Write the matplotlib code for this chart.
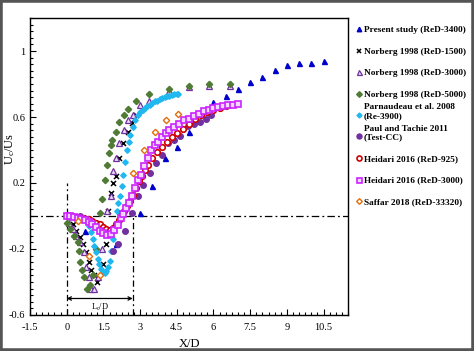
import numpy as np
import matplotlib
matplotlib.use("Agg")
import matplotlib.pyplot as plt
from matplotlib.lines import Line2D
from matplotlib.patches import Rectangle
from matplotlib.ticker import FixedLocator, MultipleLocator

plt.rcParams['font.family'] = ['Liberation Serif', 'DejaVu Serif']
plt.rcParams['mathtext.fontset'] = 'custom'
plt.rcParams['mathtext.rm'] = 'Liberation Serif'
plt.rcParams['mathtext.it'] = 'Liberation Serif'

# Present study (ReD-3400)
present_x = [0.75, 2.0, 3.0, 3.5, 4.0, 4.5, 5.0, 6.0, 6.5, 7.0, 7.5, 8.0, 8.5, 9.0, 9.5, 10.0, 10.5]
present_y = [-0.09, -0.17, 0.02, 0.18, 0.35, 0.42, 0.51, 0.69, 0.73, 0.77, 0.81, 0.84, 0.885, 0.915, 0.93, 0.93, 0.94]

# Norberg 1998 (ReD-1500)
n1500_x = [0.25, 0.4, 0.55, 0.65, 0.8, 0.9, 1.0, 1.1, 1.25, 1.5, 1.6, 1.7, 1.8, 1.9, 2.0, 2.15, 2.3, 2.5, 2.65, 2.75, 2.85]
n1500_y = [-0.05, -0.09, -0.13, -0.17, -0.22, -0.28, -0.33, -0.36, -0.40, -0.29, -0.17, 0.03, 0.14, 0.2, 0.24, 0.35, 0.44, 0.51, 0.565, 0.59, 0.61]

# Norberg 1998 (ReD-3000)
n3000_x = [0.1, 0.25, 0.4, 0.55, 0.7, 0.8, 0.9, 1.0, 1.1, 1.3, 1.45, 1.65, 1.8, 1.88, 2.0, 2.15, 2.33, 2.5, 2.7, 2.98, 3.35, 4.17, 5.0, 5.83, 6.67]
n3000_y = [-0.045, -0.08, -0.12, -0.16, -0.22, -0.31, -0.37, -0.44, -0.44, -0.37, -0.2, 0.03, 0.12, 0.27, 0.35, 0.44, 0.52, 0.58, 0.61, 0.67, 0.70, 0.76, 0.78, 0.79, 0.79]

# Norberg 1998 (ReD-5000)
n5000_x = [0.0, 0.15, 0.3, 0.45, 0.5, 0.56, 0.63, 0.72, 0.82, 0.95, 1.07, 1.2, 1.35, 1.44, 1.58, 1.65, 1.74, 1.8, 1.87, 2.0, 2.15, 2.33, 2.5, 2.84, 3.36, 4.17, 5.0, 5.83, 6.67]
n5000_y = [-0.04, -0.08, -0.12, -0.16, -0.21, -0.28, -0.33, -0.37, -0.44, -0.42, -0.36, -0.2, 0.02, 0.10, 0.22, 0.31, 0.38, 0.43, 0.46, 0.51, 0.57, 0.61, 0.65, 0.70, 0.74, 0.77, 0.79, 0.80, 0.80]

# Parnaudeau et al. 2008 (Re-3900)
parn_x = [0.85, 0.92, 0.99, 1.06, 1.13, 1.2, 1.27, 1.34, 1.41, 1.48, 1.55, 1.62, 1.69, 1.76, 1.83, 1.9, 1.97,
          2.04, 2.11, 2.18, 2.25, 2.32, 2.39, 2.46, 2.53, 2.6, 2.7, 2.8, 2.9, 3.0, 3.1, 3.2, 3.3, 3.4, 3.5,
          3.6, 3.7, 3.8, 3.9, 4.0, 4.1, 4.2, 4.3, 4.4, 4.5, 4.57]
parn_y = [-0.02, -0.06, -0.10, -0.14, -0.18, -0.22, -0.26, -0.29, -0.32, -0.34, -0.345, -0.335, -0.31, -0.27,
          -0.21, -0.14, -0.06, 0.03, 0.08, 0.12, 0.18, 0.25, 0.33, 0.40, 0.45, 0.49, 0.54, 0.58, 0.61, 0.63,
          0.645, 0.655, 0.665, 0.675, 0.685, 0.695, 0.70, 0.71, 0.715, 0.72, 0.725, 0.73, 0.735, 0.74, 0.74, 0.74]

# Paul and Tachie 2011 (Test-CC)
paul_x = [0.55, 1.9, 2.1, 2.4, 2.65, 2.9, 3.1, 3.4, 3.65, 3.9, 4.15, 4.4, 4.65, 4.95, 5.2, 5.45, 5.7, 5.9]
paul_y = [0.0, -0.21, -0.17, -0.09, 0.02, 0.12, 0.19, 0.26, 0.32, 0.37, 0.44, 0.46, 0.485, 0.545, 0.56, 0.57, 0.59, 0.61]

# Heidari 2016 (ReD-925)
h925_x = [0.0, 0.2, 0.4, 0.55, 0.72, 0.9, 1.05, 1.2, 1.35, 1.5, 1.62, 1.75, 1.88, 2.0, 2.12, 2.24, 2.36, 2.48,
          2.6, 2.72, 2.84, 2.96, 3.08, 3.2, 3.32, 3.5, 3.7, 3.9, 4.1, 4.3, 4.5, 4.75, 5.0, 5.25, 5.5, 5.75,
          6.0, 6.25, 6.5]
h925_y = [0.0, 0.0, -0.005, -0.01, -0.015, -0.02, -0.03, -0.04, -0.05, -0.065, -0.08, -0.085, -0.075, -0.05,
          -0.025, 0.0, 0.03, 0.06, 0.09, 0.13, 0.17, 0.21, 0.24, 0.28, 0.31, 0.35, 0.39, 0.42, 0.45, 0.48,
          0.5, 0.53, 0.56, 0.585, 0.61, 0.63, 0.645, 0.655, 0.665]

# Heidari 2016 (ReD-3000)
h3000_x = [0.0, 0.15, 0.3, 0.45, 0.6, 0.75, 0.9, 1.05, 1.2, 1.35, 1.5, 1.65, 1.8, 1.95, 2.08, 2.2, 2.32, 2.44,
           2.56, 2.68, 2.8, 2.92, 3.05, 3.18, 3.32, 3.46, 3.6, 3.75, 3.9, 4.05, 4.2, 4.4, 4.6, 4.8, 5.0, 5.2,
           5.4, 5.6, 5.8, 6.0, 6.2, 6.4, 6.6, 6.8, 7.0]
h3000_y = [0.0, 0.0, -0.005, -0.01, -0.02, -0.025, -0.035, -0.05, -0.065, -0.09, -0.105, -0.115, -0.11,
           -0.085, -0.055, -0.015, 0.015, 0.05, 0.08, 0.12, 0.17, 0.22, 0.25, 0.30, 0.35, 0.40, 0.43, 0.45,
           0.48, 0.50, 0.52, 0.54, 0.56, 0.58, 0.59, 0.605, 0.62, 0.635, 0.645, 0.655, 0.66, 0.665, 0.67,
           0.675, 0.68]

# Saffar 2018 (ReD-33320)
saffar_x = [0.45, 0.9, 1.35, 2.7, 3.15, 3.6, 4.05, 4.55]
saffar_y = [-0.03, -0.24, -0.36, 0.26, 0.40, 0.51, 0.58, 0.62]

series = [
    ("Present study (ReD-3400)", present_x, present_y, dict(marker='^', ms=3.6, color='#0000CC', mec='#0000CC')),
    ("Norberg 1998 (ReD-1500)", n1500_x, n1500_y, dict(marker='x', ms=3.6, color='black', mew=1.1)),
    ("Norberg 1998 (ReD-3000)", n3000_x, n3000_y, dict(marker='^', ms=4, color='#7030A0', mfc='#E8DDF2', mew=0.9)),
    ("Norberg 1998 (ReD-5000)", n5000_x, n5000_y, dict(marker='D', ms=3.2, color='#4F7B35', mec='#4F7B35')),
    ("Parnaudeau et al. 2008\n(Re-3900)", parn_x, parn_y, dict(marker='D', ms=2.8, color='#1FB8F0', mec='#1FB8F0')),
    ("Paul and Tachie 2011\n(Test-CC)", paul_x, paul_y, dict(marker='o', ms=4, color='#7030A0', mec='#7030A0')),
    ("Heidari 2016 (ReD-925)", h925_x, h925_y, dict(marker='o', ms=4, color='#D00000', mfc='white', mew=1.2)),
    ("Heidari 2016 (ReD-3000)", h3000_x, h3000_y, dict(marker='s', ms=4, color='#CC22FF', mfc='#F4D8FF', mew=1.2)),
    ("Saffar 2018 (ReD-33320)", saffar_x, saffar_y, dict(marker='D', ms=3.2, color='#E46C0A', mfc='white', mew=1.0)),
]

fig = plt.figure(figsize=(4.74, 3.51), dpi=100)
ax = fig.add_axes([0.0633, 0.1026, 0.6709, 0.8461])

for label, xs, ys, style in series:
    ax.plot(xs, ys, linestyle='none', **style)

ax.set_xlim(-1.5, 11.5)
ax.set_ylim(-0.6, 1.2)

# reference lines
ax.axhline(0, color='black', lw=0.9, ls=(0, (6, 2.5, 1.5, 2.5)), zorder=0)
ax.plot([0, 0], [-0.6, 0.2], color='black', lw=0.9, ls=(0, (5, 2.5, 1.5, 2.5)), zorder=0)
ax.plot([2.7, 2.7], [-0.6, 0.0], color='black', lw=0.9, ls=(0, (5, 2.5, 1.5, 2.5)), zorder=0)
ax.annotate('', xy=(0, -0.5), xytext=(2.7, -0.5),
            arrowprops=dict(arrowstyle='<->', lw=0.9, color='black', shrinkA=0, shrinkB=0,
                            mutation_scale=6))
ax.text(1.35, -0.555, 'L$_c$/D', ha='center', va='center', fontsize=6)

ax.xaxis.set_major_locator(FixedLocator([-1.5, 0, 1.5, 3, 4.5, 6, 7.5, 9, 10.5]))
ax.set_xticklabels(['-1.5', '0', '1.5', '3', '4.5', '6', '7.5', '9', '10.5'])
ax.xaxis.set_minor_locator(MultipleLocator(0.25))
ax.yaxis.set_major_locator(FixedLocator([-0.6, -0.2, 0.2, 0.6, 1.0]))
ax.set_yticklabels(['-0.6', '-0.2', '0.2', '0.6', '1'])
ax.yaxis.set_minor_locator(MultipleLocator(0.04))
ax.tick_params(which='both', direction='in', top=False, right=False, labelsize=7.5)
ax.tick_params(axis='x', which='major', pad=6)
ax.tick_params(which='major', length=4, width=0.8)
ax.tick_params(which='minor', length=2, width=0.8)
for sp in ax.spines.values():
    sp.set_linewidth(1.0)

ax.set_xlabel('X/D', fontsize=9, labelpad=4)
ax.set_ylabel('U$_c$/Us', fontsize=9)
ax.yaxis.set_label_coords(-0.04, 0.56)

# manual legend at right side
W, H = 474.0, 351.0
for i, (label, xs, ys, style) in enumerate(series):
    yc = 29 + 21.5 * i
    yf = 1 - yc / H
    st = dict(style)
    st['ms'] = st.get('ms', 4) * 0.9
    fig.add_artist(Line2D([359 / W], [yf], transform=fig.transFigure, linestyle='none', **st))
    fig.text(364 / W, 1 - (yc + 3.0) / H, label, fontsize=6.7, fontweight='bold',
             ha='left', va='baseline', linespacing=1.15)

fig.patches.append(Rectangle((0, 0), 1, 1, transform=fig.transFigure, fill=False,
                             edgecolor='#555555', lw=4))

fig.savefig('out.png', dpi=100)
